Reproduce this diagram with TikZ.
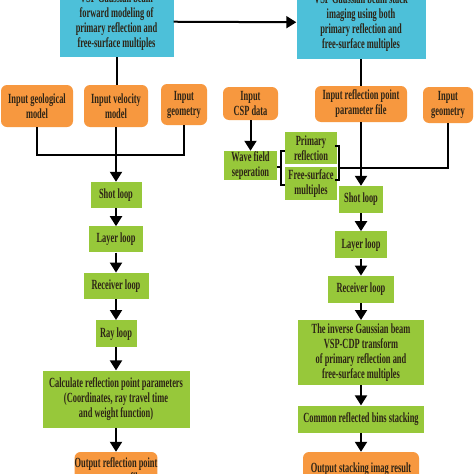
\documentclass[tikz,border=0pt]{standalone}
\usepackage{fontspec}
\setmainfont{Liberation Serif}[FakeStretch=0.6]
\usepackage{xcolor}
\usetikzlibrary{arrows.meta,positioning}
\definecolor{cyanbg}{HTML}{4DC0D9}
\definecolor{orangebg}{HTML}{F7983F}
\definecolor{greenbg}{HTML}{97C83A}
\definecolor{txtc}{HTML}{2D2416}

\begin{document}
\begin{tikzpicture}[
  x=1pt,y=1pt,
  node distance=19pt,
  every node/.style={font=\fontsize{14}{15}\selectfont\bfseries,text=txtc,align=center,inner sep=0pt},
  topbox/.style={fill=cyanbg},
  inbox/.style={fill=orangebg,rounded corners=6pt},
  loopbox/.style={fill=greenbg},
  arr/.style={-{Triangle[width=12pt,length=10pt]},line width=2pt},
  ln/.style={line width=2pt}
]
\path[use as bounding box,fill=white] (0,0) rectangle (474,-474);

\node[topbox,minimum width=114pt,minimum height=71pt] (fwd) at (116.5,-21.5)
  {VSP Gaussian beam\\forward modeling of\\primary reflection and\\free-surface multiples};
\node[topbox,minimum width=129pt,minimum height=73pt] (stack) at (361,-22.5)
  {VSP Gaussian beam stack\\imaging using both\\primary reflection and\\free-surface multiples};

\node[inbox,minimum width=72pt,minimum height=42pt] (geo) at (37,-106) {Input geological\\model};
\node[inbox,minimum width=64pt,minimum height=42pt] (vel) at (116,-106) {Input velocity\\model};
\node[inbox,minimum width=46pt,minimum height=41pt] (geom) at (184,-104.5) {Input\\geometry};
\node[inbox,minimum width=55pt,minimum height=33pt] (csp) at (250.5,-103.5) {Input\\CSP data};
\node[inbox,minimum width=92pt,minimum height=36pt] (refpar) at (361,-104) {Input reflection point\\parameter file};
\node[inbox,minimum width=50pt,minimum height=36pt] (geomb) at (448,-105) {Input\\geometry};

\node[loopbox,minimum width=53pt,minimum height=29pt] (wave) at (250.5,-165.5) {Wave field\\seperation};
\node[loopbox,minimum width=52pt,minimum height=32pt] (prim) at (311,-148) {Primary\\reflection};
\node[loopbox,minimum width=52pt,minimum height=33pt] (free) at (311,-183.5) {Free-surface\\multiples};

\node[loopbox,minimum width=51pt,minimum height=26pt] (shotL) at (116,-195) {Shot loop};
\node[loopbox,minimum width=54pt,minimum height=26pt,below=18pt of shotL] (layerL) {Layer loop};
\node[loopbox,minimum width=65pt,minimum height=26pt,below=20pt of layerL] (recvL) {Receiver loop};
\node[loopbox,minimum width=41pt,minimum height=27pt,below=21pt of recvL] (rayL) {Ray loop};
\node[loopbox,minimum width=147pt,minimum height=57pt,below=23pt of rayL] (calc)
  {Calculate reflection point parameters\\(Coordinates, ray travel time\\and weight function)};
\node[inbox,minimum width=79pt,minimum height=40pt,below=24pt of calc] (outL) {Output reflection point\\parameter file};

\node[loopbox,minimum width=44pt,minimum height=27pt] (shotR) at (361,-199.5) {Shot loop};
\node[loopbox,minimum width=52pt,minimum height=27pt,below=18pt of shotR] (layerR) {Layer loop};
\node[loopbox,minimum width=66pt,minimum height=27pt,below=17pt of layerR] (recvR) {Receiver loop};
\node[loopbox,minimum width=126pt,minimum height=65pt,below=17pt of recvR] (inv)
  {The inverse Gaussian beam\\VSP-CDP transform\\of primary reflection and\\free-surface multiples};
\node[loopbox,minimum width=126pt,minimum height=27pt,below=20pt of inv] (bins) {Common reflected bins stacking};
\node[inbox,minimum width=116pt,minimum height=34pt,below=19pt of bins] (outR) {Output stacking imag result};

\coordinate (brL) at (281,-167);
\coordinate (brR) at (339,-168);

\draw[arr] (fwd) -- (stack);
\draw[ln] (fwd.south) -- (fwd.south |- vel.north);
\draw[ln] (geo.south) -- ++(0,-28) -| (geom.south);
\draw[arr] (vel) -- (shotL);
\draw[arr] (shotL) -- (layerL);
\draw[arr] (layerL) -- (recvL);
\draw[arr] (recvL) -- (rayL);
\draw[arr] (rayL) -- (calc);
\draw[arr] (calc) -- (outL);

\draw[ln] (stack) -- (refpar);
\draw[arr] (refpar) -- (shotR);
\draw[arr] (csp) -- (wave);
\draw[ln] (brL -| wave.east) -- (brL);
\draw[ln] (brL) ++(4,16) -- ++(-4,0) -- ++(0,-34) -- ++(4,0);
\draw[ln] (brR) ++(-4,22) -- ++(4,0) -- ++(0,-34) -- ++(-4,0);
\draw[ln] (brR) -| (geomb.south);
\draw[arr] (shotR) -- (layerR);
\draw[arr] (layerR) -- (recvR);
\draw[arr] (recvR) -- (inv);
\draw[arr] (inv) -- (bins);
\draw[arr] (bins) -- (outR);
\end{tikzpicture}
\end{document}
